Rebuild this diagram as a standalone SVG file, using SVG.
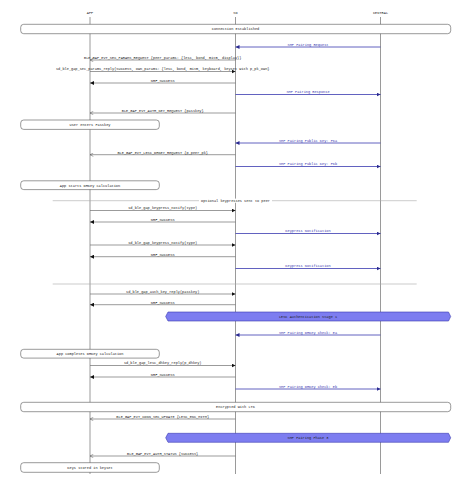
<svg xmlns="http://www.w3.org/2000/svg" width="474" height="495" viewBox="0 0 474 495">
<style>
text{font-family:"Liberation Mono","DejaVu Sans Mono",monospace;font-size:3.6px;text-anchor:middle;fill:#222}
.blue{fill:#3a3ab0}
.life{stroke:#9a9a9a;stroke-width:1}
.msg{stroke:#707070;stroke-width:0.7;fill:none}
.bmsg{stroke:#3a3ab0;stroke-width:0.8;fill:none}
.box{fill:#fff;stroke:#555;stroke-width:0.6}
.hex{fill:#7d7df0;stroke:#3a3ab0;stroke-width:0.6}
.sep{stroke:#aaa;stroke-width:0.6}
</style>
<defs>
<marker id="fa" markerUnits="userSpaceOnUse" markerWidth="4" markerHeight="4" refX="4" refY="2" orient="auto"><path d="M0,0 L4,2 L0,4 z" fill="#111"/></marker>
<marker id="fb" markerUnits="userSpaceOnUse" markerWidth="4" markerHeight="4" refX="4" refY="2" orient="auto"><path d="M0,0 L4,2 L0,4 z" fill="#2a2a90"/></marker>
<marker id="oa" markerUnits="userSpaceOnUse" markerWidth="4" markerHeight="4" refX="3.6" refY="2" orient="auto"><path d="M0.3,0.3 L3.6,2 L0.3,3.7" fill="none" stroke="#555" stroke-width="0.5"/></marker>
</defs>
<g id="lifelines">
<text x="90" y="14.3">APP</text>
<text x="235.5" y="14.3">SD</text>
<text x="380.5" y="14.3">CENTRAL</text>
<line class="life" x1="90" y1="17" x2="90" y2="474"/>
<line class="life" x1="235.5" y1="17" x2="235.5" y2="474"/>
<line class="life" x1="380.5" y1="17" x2="380.5" y2="474"/>
</g>
<g id="connectors">
<line class="bmsg" x1="380.5" y1="47" x2="235.5" y2="47" marker-end="url(#fb)"/>
<text class="blue" x="308" y="45.8">SMP Pairing Request</text>
<line class="msg" x1="235.5" y1="60" x2="90" y2="60" marker-end="url(#oa)"/>
<text x="162.7" y="58.8">BLE_GAP_EVT_SEC_PARAMS_REQUEST {peer_params: {lesc, bond, mitm, display}}</text>
<line class="msg" x1="90" y1="71.5" x2="235.5" y2="71.5" marker-end="url(#fa)"/>
<text x="162.7" y="70.3">sd_ble_gap_sec_params_reply(SUCCESS, own_params: {lesc, bond, mitm, keyboard, keyset with p_pk_own}</text>
<line class="msg" x1="235.5" y1="83" x2="90" y2="83" marker-end="url(#fa)"/>
<text x="162.7" y="81.8">NRF_SUCCESS</text>
<line class="bmsg" x1="235.5" y1="94.5" x2="380.5" y2="94.5" marker-end="url(#fb)"/>
<text class="blue" x="308" y="93.3">SMP Pairing Response</text>
<line class="msg" x1="235.5" y1="113" x2="90" y2="113" marker-end="url(#oa)"/>
<text x="162.7" y="111.8">BLE_GAP_EVT_AUTH_KEY_REQUEST {passkey}</text>
<line class="bmsg" x1="380.5" y1="143" x2="235.5" y2="143" marker-end="url(#fb)"/>
<text class="blue" x="308" y="141.8">SMP Pairing Public Key: PKa</text>
<line class="msg" x1="235.5" y1="154.7" x2="90" y2="154.7" marker-end="url(#oa)"/>
<text x="162.7" y="153.5">BLE_GAP_EVT_LESC_DHKEY_REQUEST {p_peer_pk}</text>
<line class="bmsg" x1="235.5" y1="166.5" x2="380.5" y2="166.5" marker-end="url(#fb)"/>
<text class="blue" x="308" y="165.3">SMP Pairing Public Key: PKb</text>
<line class="sep" x1="52.7" y1="200.7" x2="416.7" y2="200.7"/>
<rect x="199" y="198.6" width="73" height="4.2" fill="#fff"/>
<text x="235.5" y="202">Optional keypresses sent to peer</text>
<line class="msg" x1="90" y1="210.5" x2="235.5" y2="210.5" marker-end="url(#fa)"/>
<text x="162.7" y="209.3">sd_ble_gap_keypress_notify(type)</text>
<line class="msg" x1="235.5" y1="222" x2="90" y2="222" marker-end="url(#fa)"/>
<text x="162.7" y="220.8">NRF_SUCCESS</text>
<line class="bmsg" x1="235.5" y1="233.5" x2="380.5" y2="233.5" marker-end="url(#fb)"/>
<text class="blue" x="308" y="232.3">Keypress Notification</text>
<line class="msg" x1="90" y1="245" x2="235.5" y2="245" marker-end="url(#fa)"/>
<text x="162.7" y="243.8">sd_ble_gap_keypress_notify(type)</text>
<line class="msg" x1="235.5" y1="256.7" x2="90" y2="256.7" marker-end="url(#fa)"/>
<text x="162.7" y="255.5">NRF_SUCCESS</text>
<line class="bmsg" x1="235.5" y1="268.5" x2="380.5" y2="268.5" marker-end="url(#fb)"/>
<text class="blue" x="308" y="267.3">Keypress Notification</text>
<line class="sep" x1="52.7" y1="284" x2="416.7" y2="284"/>
<line class="msg" x1="90" y1="294" x2="235.5" y2="294" marker-end="url(#fa)"/>
<text x="162.7" y="292.8">sd_ble_gap_auth_key_reply(passkey)</text>
<line class="msg" x1="235.5" y1="304.7" x2="90" y2="304.7" marker-end="url(#fa)"/>
<text x="162.7" y="303.5">NRF_SUCCESS</text>
<line class="bmsg" x1="380.5" y1="335" x2="235.5" y2="335" marker-end="url(#fb)"/>
<text class="blue" x="308" y="333.8">SMP Pairing DHKey Check: Ea</text>
<line class="msg" x1="90" y1="365.5" x2="235.5" y2="365.5" marker-end="url(#fa)"/>
<text x="162.7" y="364.3">sd_ble_gap_lesc_dhkey_reply(p_dhkey)</text>
<line class="msg" x1="235.5" y1="377" x2="90" y2="377" marker-end="url(#fa)"/>
<text x="162.7" y="375.8">NRF_SUCCESS</text>
<line class="bmsg" x1="235.5" y1="389" x2="380.5" y2="389" marker-end="url(#fb)"/>
<text class="blue" x="308" y="387.8">SMP Pairing DHKey Check: Eb</text>
<line class="msg" x1="235.5" y1="419" x2="90" y2="419" marker-end="url(#oa)"/>
<text x="162.7" y="417.8">BLE_GAP_EVT_CONN_SEC_UPDATE {LESC_ENC_MITM}</text>
<line class="msg" x1="235.5" y1="456" x2="90" y2="456" marker-end="url(#oa)"/>
<text x="162.7" y="454.8">BLE_GAP_EVT_AUTH_STATUS {SUCCESS}</text>
</g>
<g id="conn-established"><rect class="box" x="20.7" y="24.3" width="430" height="9.4" rx="3"/><text x="235.5" y="30.3">Connection Established</text></g>
<g id="user-enters-passkey"><rect class="box" x="20.7" y="120" width="138.6" height="9.4" rx="3"/><text x="90" y="126">User enters Passkey</text></g>
<g id="app-starts-dhkey"><rect class="box" x="20.7" y="180.8" width="138.6" height="8.8" rx="3"/><text x="90" y="186.5">App starts DHKey calculation</text></g>
<g id="lesc-auth-stage1"><polygon class="hex" points="168,312 448.5,312 450.7,316.5 448.5,321 168,321 165.7,316.5"/><text x="308" y="317.8">LESC Authentication Stage 1</text></g>
<g id="app-completes-dhkey"><rect class="box" x="20.7" y="349.3" width="138.6" height="8.8" rx="3"/><text x="90" y="355">App completes DHKey calculation</text></g>
<g id="encrypted-ltk"><rect class="box" x="20.7" y="402.3" width="430" height="9.4" rx="3"/><text x="235.5" y="408.3">Encrypted with LTK</text></g>
<g id="smp-phase3"><polygon class="hex" points="168,433.3 448.5,433.3 450.7,437.8 448.5,442.3 168,442.3 165.7,437.8"/><text x="308" y="439.1">SMP Pairing Phase 3</text></g>
<g id="keys-stored"><rect class="box" x="20.7" y="462.7" width="138.6" height="9.6" rx="3"/><text x="90" y="468.8">Keys stored in keyset</text></g>
</svg>
